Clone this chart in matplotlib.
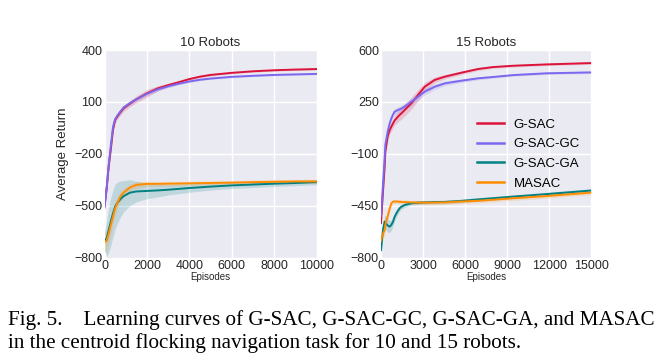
import numpy as np
import matplotlib
matplotlib.use('Agg')
import matplotlib.pyplot as plt

plt.rcParams['font.family'] = ['Liberation Sans', 'DejaVu Sans']

# 10 robots
ep10 = [0, 100, 200, 300, 400, 500, 600, 750, 900, 1200, 1500, 2000, 2500, 3000,
        3500, 4000, 4500, 5000, 6000, 7000, 8000, 9000, 10000]
gsac10 = [-500, -400, -270, -170, -60, -5, 15, 40, 63, 90, 115, 150, 178, 197,
          214, 232, 246, 256, 268, 277, 283, 287, 290]
gsac10_sd = [20, 30, 30, 25, 20, 18, 18, 18, 18, 18, 20, 22, 15, 10,
             8, 8, 6, 6, 5, 5, 5, 5, 5]
gc10 = [-510, -400, -260, -150, -45, 0, 20, 45, 68, 93, 115, 147, 172, 190,
        205, 218, 228, 235, 245, 251, 256, 259, 262]
gc10_sd = [20, 25, 25, 20, 15, 12, 12, 12, 12, 12, 12, 12, 10, 8,
           6, 6, 5, 5, 5, 5, 5, 5, 5]
ga10 = [-700, -690, -640, -590, -545, -505, -485, -462, -445, -425, -418, -415, -412, -408,
        -403, -398, -394, -390, -383, -378, -373, -369, -364]
ga10_sd = [60, 100, 130, 140, 135, 130, 120, 105, 90, 75, 60, 45, 38, 30,
           28, 25, 22, 20, 18, 17, 16, 15, 15]
ma10 = [-710, -705, -660, -610, -563, -515, -486, -447, -425, -395, -380, -374, -374, -373,
        -372, -371, -370, -369, -367, -364, -362, -360, -360]
ma10_sd = [60, 60, 55, 50, 45, 40, 35, 30, 25, 20, 18, 15, 14, 13,
           12, 12, 12, 12, 12, 12, 12, 12, 12]

# 15 robots
ep15 = [0, 140, 260, 310, 450, 500, 620, 740, 860, 975, 1100, 1210, 1330, 1450, 1690,
        2165, 2640, 3120, 3830, 4550, 5740, 6930, 8000, 9460, 11840, 15000]
gsac15 = [-568, -360, -190, -86, 0, 26, 60, 83, 105, 125, 138, 150, 162, 172, 195,
          240, 296, 352, 398, 420, 447, 472, 485, 494, 503, 512]
gsac15_sd = [20, 30, 30, 30, 30, 30, 30, 30, 30, 32, 34, 36, 38, 40, 40,
             40, 38, 30, 20, 15, 12, 10, 8, 8, 8, 8]
gc15 = [-520, -310, -130, -41, 35, 60, 105, 139, 165, 184, 190, 195, 200, 205, 218,
        251, 285, 319, 352, 375, 393, 409, 418, 431, 443, 449]
gc15_sd = [20, 25, 25, 25, 20, 20, 20, 20, 20, 20, 20, 20, 20, 22, 24,
           25, 25, 22, 18, 15, 12, 10, 8, 8, 8, 8]
ga15 = [-750, -615, -558, -565, -581, -585, -592, -580, -558, -525, -502, -485, -468, -458, -446,
        -434, -430, -428, -426, -425, -418, -408, -400, -389, -372, -348]
ga15_sd = [30, 40, 45, 45, 45, 45, 40, 35, 30, 28, 25, 22, 20, 18, 16,
           14, 13, 12, 12, 12, 12, 12, 12, 12, 12, 12]
ma15 = [-687, -640, -615, -580, -530, -513, -470, -434, -423, -422, -422, -423, -424, -425, -426,
        -428, -429, -430, -429, -428, -422, -417, -410, -400, -385, -362]
ma15_sd = [30, 35, 35, 35, 30, 28, 20, 15, 14, 14, 14, 14, 14, 14, 14,
           14, 14, 14, 14, 14, 14, 14, 14, 14, 14, 14]

labels = ['G-SAC', 'G-SAC-GC', 'G-SAC-GA', 'MASAC']
colors = ['#DC143C', '#7B68EE', '#008080', '#FF8C00']


def draw(ax, x, series, title, xticks, yticks):
    ax.set_facecolor('#EAEAF2')
    x = np.array(x)
    for (mean, sd), lab, col in zip(series, labels, colors):
        mean = np.array(mean)
        sd = np.array(sd)
        ax.fill_between(x, mean - sd, mean + sd, color=col, alpha=0.18, lw=0)
        ax.plot(x, mean, color=col, lw=1.4, label=lab)
    ax.set_xlim(xticks[0], xticks[-1])
    ax.set_ylim(yticks[0], yticks[-1])
    ax.set_xticks(xticks)
    ax.set_yticks(yticks)
    ax.grid(True, color='white', lw=1.0)
    ax.set_axisbelow(True)
    for s in ax.spines.values():
        s.set_visible(False)
    ax.tick_params(length=0, labelsize=9, pad=1.5, colors='#262626')
    ax.set_title(title, fontsize=9.5, pad=3, color='#262626')
    ax.set_xlabel('Episodes', fontsize=7, labelpad=0, color='#262626')


fig = plt.figure(figsize=(6.67, 3.63), dpi=100)
ax1 = fig.add_axes([0.1567, 0.2906, 0.318, 0.5716])
ax2 = fig.add_axes([0.5712, 0.2906, 0.315, 0.5716])

draw(ax1, ep10, [(gsac10, gsac10_sd), (gc10, gc10_sd), (ga10, ga10_sd), (ma10, ma10_sd)],
     '10 Robots', [0, 2000, 4000, 6000, 8000, 10000], [-800, -500, -200, 100, 400])
draw(ax2, ep15, [(gsac15, gsac15_sd), (gc15, gc15_sd), (ga15, ga15_sd), (ma15, ma15_sd)],
     '15 Robots', [0, 3000, 6000, 9000, 12000, 15000], [-800, -450, -100, 250, 600])
ax1.set_ylabel('Average Return', fontsize=9.5, labelpad=4, color='#262626')

leg = ax2.legend(loc='upper left', bbox_to_anchor=(0.456, 0.67), frameon=False,
                 borderpad=0, borderaxespad=0, fontsize=9.5, handlelength=2.05,
                 labelspacing=0.56, handletextpad=0.76)
for h in leg.get_lines():
    h.set_linewidth(1.8)

fig.text(0.012, 0.119, 'Fig. 5.    Learning curves of G-SAC, G-SAC-GC, G-SAC-GA, and MASAC',
         family='Liberation Serif', fontsize=15.2, va='center')
fig.text(0.012, 0.055, 'in the centroid flocking navigation task for 10 and 15 robots.',
         family='Liberation Serif', fontsize=15.2, va='center')

fig.savefig('out.png', dpi=100)
